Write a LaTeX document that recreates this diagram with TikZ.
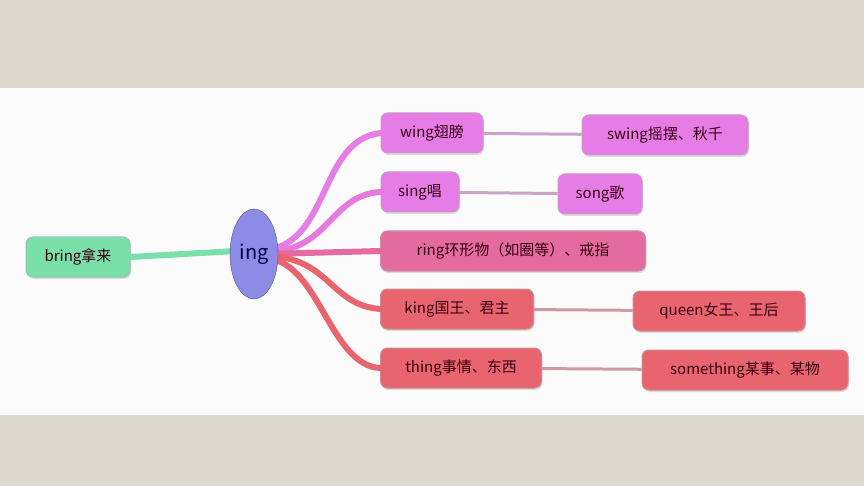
\documentclass[tikz,border=0pt]{standalone}
\usepackage{fontspec}
\setmainfont{Noto Sans CJK SC}
\usetikzlibrary{shadows,shapes.geometric}
\definecolor{beige}{HTML}{DCD8CB}
\definecolor{pinkA}{HTML}{E67CE6}
\definecolor{pinkB}{HTML}{E36BA0}
\definecolor{redA}{HTML}{E8646E}
\definecolor{greenA}{HTML}{78E0A8}
\definecolor{ingblue}{HTML}{8C8CE6}
\begin{document}
\begin{tikzpicture}[x=1pt,y=-1pt,
  box/.style={draw=#1!70!black!60,fill=#1,rounded corners=7pt,minimum height=40pt,inner xsep=4pt,line width=1pt,drop shadow={shadow xshift=1pt,shadow yshift=-2pt,opacity=0.25},font=\fontsize{15}{17}\selectfont,text=black!70!purple},
  branch/.style={line width=#1,line cap=round},
  link/.style={line width=3pt,draw=#1!50!gray!70}]
\fill[beige] (0,0) rectangle (864,486);
\fill[white!97!gray] (0,88) rectangle (864,415);
\node[box=greenA,minimum width=104pt] (bring) at (78,257) {bring拿来};
\node[box=pinkA,minimum width=102pt] (wing) at (432,133) {wing翅膀};
\node[box=pinkA,minimum width=166pt] (swing) at (665,135) {swing摇摆、秋千};
\node[box=pinkA,minimum width=78pt] (sing) at (420,192) {sing唱};
\node[box=pinkA,minimum width=84pt] (song) at (600,194) {song歌};
\node[box=pinkB,minimum width=265pt] (ring) at (513,251) {ring环形物（如圈等）、戒指};
\node[box=redA,minimum width=153pt] (king) at (457,309) {king国王、君主};
\node[box=redA,minimum width=172pt] (queen) at (719,311) {queen女王、王后};
\node[box=redA,minimum width=161pt] (thing) at (461,368) {thing事情、东西};
\node[box=redA,minimum width=206pt] (something) at (745,370) {something某事、某物};
\draw[branch=6pt,greenA] (bring.east) -- (254,250);
\draw[branch=6pt,pinkA] (268,250) .. controls (330,240) and (320,140) .. (wing.west);
\draw[branch=6pt,pinkA!85!pinkB] (268,252) .. controls (330,250) and (330,195) .. (sing.west);
\draw[branch=6pt,pinkB] (268,254) -- (ring.west);
\draw[branch=6pt,redA] (268,256) .. controls (330,258) and (330,305) .. (king.west);
\draw[branch=6pt,redA] (268,258) .. controls (320,265) and (330,365) .. (thing.west);
\node[ellipse,draw=ingblue!60!black,fill=ingblue,minimum width=48pt,minimum height=90pt,inner sep=0pt,font=\fontsize{20}{22}\selectfont,text=black!70!blue] (ing) at (254,254) {ing};
\draw[link=pinkA] (wing) -- (swing);
\draw[link=pinkA] (sing) -- (song);
\draw[link=redA] (king) -- (queen);
\draw[link=redA] (thing) -- (something);
\end{tikzpicture}
\end{document}
